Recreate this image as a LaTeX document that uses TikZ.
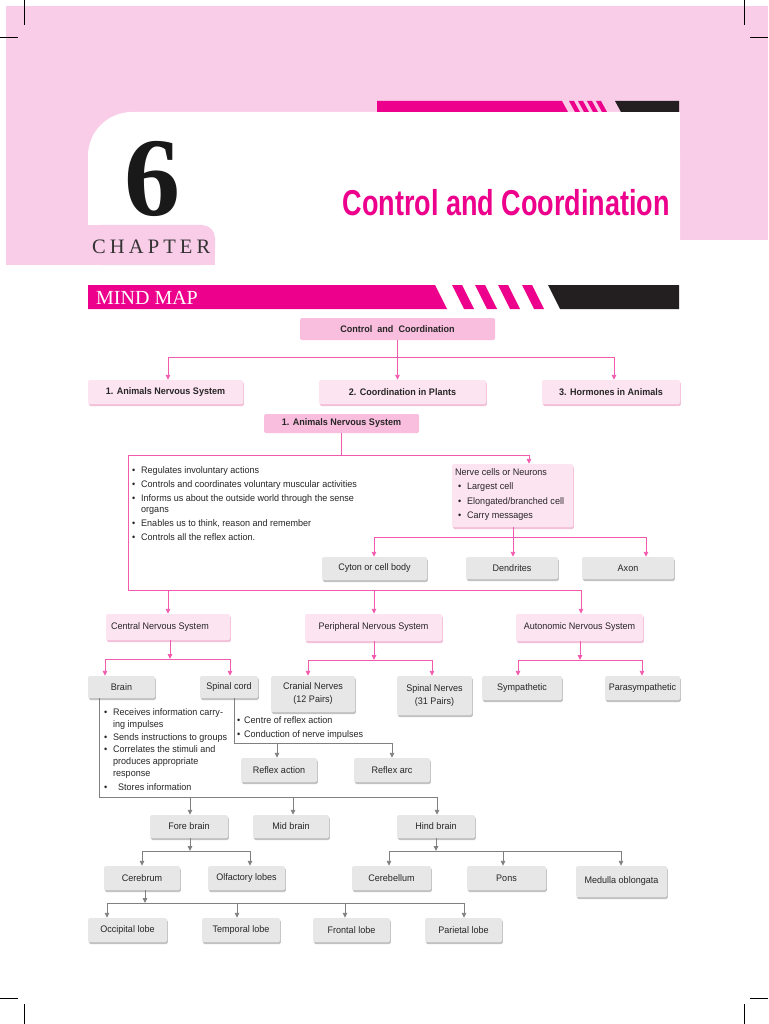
\documentclass[tikz,border=0pt]{standalone}
\usepackage{fontspec}
\setmainfont{Liberation Sans}
\newfontfamily\bodyfont[FakeStretch=0.95]{Liberation Sans}
\newfontfamily\titlefont[FakeStretch=0.75]{Liberation Sans}
\newfontfamily\serifont{Liberation Serif}
\newfontfamily\chapfont[LetterSpace=20]{Liberation Serif}
\usetikzlibrary{shadows,arrows.meta}
\definecolor{mag}{HTML}{EC008C}
\definecolor{hdrpink}{HTML}{F9CCE7}
\definecolor{boxpink}{HTML}{F9BEDE}
\definecolor{lpink}{HTML}{FDE4F1}
\definecolor{pshadow}{HTML}{F2C0D9}
\definecolor{lnpink}{HTML}{F25AAE}
\definecolor{gboxc}{HTML}{E7E7E7}
\definecolor{gshadow}{HTML}{C2C2C2}
\definecolor{gline}{HTML}{808080}
\definecolor{barblack}{HTML}{231F20}
\definecolor{txt}{HTML}{262626}
\newcommand\mkbox[7]{\node[#2, minimum width={(#5)-(#3)}, minimum height={(#6)-(#4)}] (#1) at ({((#3)+(#5))/2},{((#4)+(#6))/2}) {#7};}
\newcommand\bt{\makebox[9pt][l]{•}}
\begin{document}
\begin{tikzpicture}[x=1pt,y=-1pt,
  base/.style={inner sep=0pt, font=\bodyfont\fontsize{9.5}{11}\selectfont, text=txt, rounded corners=1.5pt, align=center},
  bold/.style={font=\bodyfont\bfseries\fontsize{9.5}{11}\selectfont},
  pbox/.style={base, bold, fill=boxpink},
  lbox/.style={base, fill=lpink, drop shadow={shadow xshift=0.8pt, shadow yshift=-2pt, fill=pshadow, opacity=1}},
  gbox/.style={base, fill=gboxc, drop shadow={shadow xshift=0.8pt, shadow yshift=-2pt, fill=gshadow, opacity=1}},
  blt/.style={inner sep=0pt, anchor=north west, align=left, text=txt},
  pl/.style={draw=lnpink, line width=0.9pt},
  pa/.style={pl, -{Triangle[length=5pt,width=4.5pt]}},
  gl/.style={draw=gline, line width=0.9pt},
  ga/.style={gl, -{Triangle[length=5pt,width=4.5pt]}},
  crop/.style={draw=black, line width=0.7pt}]
\useasboundingbox (0,0) rectangle (768,1024);
\fill[white] (0,0) rectangle (768,1024);
% ---------- header ----------
\fill[hdrpink] (6,6) rectangle (768,240);
\fill[hdrpink] (6,6) rectangle (215,265);
\fill[white, rounded corners=44pt] (88,112) rectangle (680,330);
\fill[white] (200,112) rectangle (680,330);
\fill[white] (88,200) rectangle (680,330);
\fill[hdrpink, rounded corners=13pt] (88,225) rectangle (215,265);
\fill[hdrpink] (88,225) rectangle (150,265);
\fill[hdrpink] (88,245) rectangle (215,265);
% top bar
\fill[mag] (377,101) -- (562,101) -- (568,112) -- (377,112) -- cycle;
\foreach \s in {569,578,587,596} {\fill[mag] (\s,101) -- (\s+5,101) -- (\s+11,112) -- (\s+6,112) -- cycle;}
\fill[barblack] (615,101) -- (679,101) -- (679,112) -- (621,112) -- cycle;
\node[anchor=base, inner sep=0pt, text=black!90] (six) at (152,215) {\serifont\bfseries\fontsize{112}{112}\selectfont 6};
\node[anchor=base west, inner sep=0pt, text=black!80] (chap) at (92,253) {\chapfont\fontsize{20.5}{20.5}\selectfont CHAPTER};
\node[anchor=base east, inner sep=0pt, text=mag] (title) at (670,216) {\titlefont\bfseries\fontsize{36}{36}\selectfont Control and Coordination};
% crop marks
\draw[crop] (24,0) -- (24,25);
\draw[crop] (0,37) -- (18,37);
\draw[crop] (744,0) -- (744,25);
\draw[crop] (750,37) -- (768,37);
\draw[crop] (0,998) -- (18,998);
\draw[crop] (24,1004) -- (24,1024);
\draw[crop] (750,998) -- (768,998);
\draw[crop] (744,1004) -- (744,1024);
% ---------- mind map bar ----------
\fill[mag] (88,285) -- (435,285) -- (447,309) -- (88,309) -- cycle;
\foreach \s in {452,475,498,522} {\fill[mag] (\s,285) -- (\s+10,285) -- (\s+22,309) -- (\s+12,309) -- cycle;}
\fill[barblack] (548,285) -- (679,285) -- (679,309) -- (560,309) -- cycle;
\node[anchor=base west, inner sep=0pt, text=white] (mm) at (96,304) {\serifont\fontsize{20}{20}\selectfont MIND MAP};
% ---------- level 1 ----------
\mkbox{cc}{pbox}{300}{318}{495}{340}{Control\ \ and\ \ Coordination}
\mkbox{an}{lbox,bold}{88}{380}{243}{404}{1. Animals Nervous System}
\mkbox{cp}{lbox,bold}{319}{380}{486}{404}{2. Coordination in Plants}
\mkbox{ha}{lbox,bold}{542}{380}{680}{404}{3. Hormones in Animals}
\coordinate (cL) at (168,357);
\coordinate (cR) at (614,357);
\draw[pl] (cc.south) -- (cc.south |- cL);
\draw[pl] (cL) -- (cR);
\draw[pa] (cL) -- (cL |- an.north);
\draw[pa] (cc.south |- cL) -- (cc.south |- cp.north);
\draw[pa] (cR) -- (cR |- ha.north);
% ---------- animals nervous system ----------
\mkbox{ans}{pbox}{264}{414}{419}{433}{1. Animals Nervous System}
\coordinate (aL) at (128,455);
\coordinate (aR) at (529,455);
\coordinate (bL) at (128,590);
\coordinate (bR) at (581,590);
\mkbox{nc}{lbox}{452}{464}{573}{527}{}
\draw[pl] (ans.south) -- (ans.south |- aL);
\draw[pl] (aL) -- (aR);
\draw[pa] (aR) -- (aR |- nc.north);
\draw[pl] (aL) -- (bL) -- (bR);
\node[blt, font=\bodyfont\fontsize{9.5}{13.8}\selectfont] (fun) at (132,466.5) {\bt Regulates involuntary actions\\ \bt Controls and coordinates voluntary muscular activities\\ \bt Informs us about the outside world through the sense\\[-2.4pt] \hspace*{9pt}organs\\ \bt Enables us to think, reason and remember\\ \bt Controls all the reflex action.};
\node[blt, font=\bodyfont\fontsize{9.5}{14.4}\selectfont] (nct) at (455,468.5) {Nerve cells or Neurons\\ \hspace*{3pt}\bt Largest cell\\ \hspace*{3pt}\bt Elongated/branched cell\\ \hspace*{3pt}\bt Carry messages};
\mkbox{cy}{gbox}{322}{557}{427}{580}{Cyton\ or cell body}
\mkbox{de}{gbox}{466}{557}{558}{579}{Dendrites}
\mkbox{ax}{gbox}{582}{557}{674}{579}{Axon}
\coordinate (nL) at (374,537);
\coordinate (nR) at (646,537);
\coordinate (nM) at (513,537);
\draw[pl] (nc.south -| nM) -- (nM);
\draw[pl] (nL) -- (nR);
\draw[pa] (nL) -- (nL |- cy.north);
\draw[pa] (nM) -- (nM |- de.north);
\draw[pa] (nR) -- (nR |- ax.north);
% ---------- three systems ----------
\mkbox{cns}{lbox}{106}{614}{230}{640}{\makebox[114pt][l]{Central Nervous System}}
\mkbox{pns}{lbox}{305}{614}{442}{641}{Peripheral Nervous System}
\mkbox{ons}{lbox}{516}{614}{643}{641}{Autonomic Nervous System}
\coordinate (s1) at (168,590);
\coordinate (s2) at (374,590);
\draw[pa] (s1) -- (s1 |- cns.north);
\draw[pa] (s2) -- (s2 |- pns.north);
\draw[pa] (bR) -- (bR |- ons.north);
% CNS children
\mkbox{br}{gbox}{88}{676}{155}{698}{Brain}
\mkbox{sc}{gbox}{200}{676}{258}{698}{Spinal cord}
\coordinate (cm) at (170,659);
\coordinate (cl) at (105,659);
\coordinate (cr) at (230,659);
\draw[pa] (cns.south -| cm) -- (cm);
\draw[pl] (cl) -- (cr);
\draw[pa] (cl) -- (cl |- br.north);
\draw[pa] (cr) -- (cr |- sc.north);
% PNS children
\mkbox{cn}{gbox}{271}{676}{355}{712}{Cranial Nerves\\[2pt](12 Pairs)}
\mkbox{sn}{gbox}{397}{676}{472}{715}{Spinal Nerves\\[2pt](31 Pairs)}
\coordinate (pm) at (374,660);
\coordinate (pL) at (308,660);
\coordinate (pR) at (432,660);
\draw[pa] (pns.south -| pm) -- (pm);
\draw[pl] (pL) -- (pR);
\draw[pa] (pL) -- (pL |- cn.north);
\draw[pa] (pR) -- (pR |- sn.north);
% ANS children
\mkbox{sy}{gbox}{482}{676}{562}{700}{Sympathetic}
\mkbox{ps}{gbox}{605}{676}{680}{700}{Parasympathetic}
\coordinate (om) at (580,660);
\coordinate (oL) at (518,660);
\coordinate (oR) at (642,660);
\draw[pa] (ons.south -| om) -- (om);
\draw[pl] (oL) -- (oR);
\draw[pa] (oL) -- (oL |- sy.north);
\draw[pa] (oR) -- (oR |- ps.north);
% brain / spinal cord notes
\node[blt, font=\bodyfont\fontsize{9.5}{12.3}\selectfont] (brt) at (104,708.5) {\bt Receives information carry-\\ \hspace*{9pt}ing impulses\\ \bt Sends instructions to groups\\ \bt Correlates the stimuli and\\ \hspace*{9pt}produces appropriate\\[-1pt] \hspace*{9pt}response\\[1.8pt] \makebox[14pt][l]{•}Stores information};
\node[blt, font=\bodyfont\fontsize{9.5}{14}\selectfont] (sct) at (237,716) {\makebox[7pt][l]{•}Centre of reflex action\\ \makebox[7pt][l]{•}Conduction of nerve impulses};
% reflex
\mkbox{ra}{gbox}{241}{758}{317}{782}{Reflex action}
\mkbox{rc}{gbox}{354}{758}{430}{782}{Reflex arc}
\coordinate (rT) at (234,698);
\coordinate (rL) at (234,743);
\coordinate (rR) at (392,743);
\coordinate (rM) at (277,743);
\draw[gl] (rT) -- (rL) -- (rR);
\draw[ga] (rM) -- (rM |- ra.north);
\draw[ga] (rR) -- (rR |- rc.north);
% brain parts
\mkbox{fb}{gbox}{150}{815}{228}{838}{Fore brain}
\mkbox{mb}{gbox}{253}{815}{329}{838}{Mid brain}
\mkbox{hb}{gbox}{397}{815}{475}{838}{Hind brain}
\coordinate (bT) at (99,698);
\coordinate (bBL) at (99,797);
\coordinate (bBR) at (437,797);
\coordinate (bB1) at (190,797);
\coordinate (bB2) at (293,797);
\draw[gl] (bT) -- (bBL) -- (bBR);
\draw[ga] (bB1) -- (bB1 |- fb.north);
\draw[ga] (bB2) -- (bB2 |- mb.north);
\draw[ga] (bBR) -- (bBR |- hb.north);
% fore brain children
\mkbox{ce}{gbox}{104}{866}{180}{890}{Cerebrum}
\mkbox{ol}{gbox}{208}{866}{285}{890}{Olfactory lobes}
\coordinate (fm) at (190,851);
\coordinate (fL) at (142,851);
\coordinate (fR) at (250,851);
\draw[ga] (fb.south -| fm) -- (fm);
\draw[gl] (fL) -- (fR);
\draw[ga] (fL) -- (fL |- ce.north);
\draw[ga] (fR) -- (fR |- ol.north);
% hind brain children
\mkbox{cb}{gbox}{352}{866}{431}{890}{Cerebellum}
\mkbox{po}{gbox}{467}{866}{546}{890}{Pons}
\mkbox{mo}{gbox}{576}{866}{667}{897}{Medulla oblongata}
\coordinate (hm) at (436,851);
\coordinate (hL) at (389,851);
\coordinate (hM) at (503,851);
\coordinate (hR) at (621,851);
\draw[ga] (hb.south -| hm) -- (hm);
\draw[gl] (hL) -- (hR);
\draw[ga] (hL) -- (hL |- cb.north);
\draw[ga] (hM) -- (hM |- po.north);
\draw[ga] (hR) -- (hR |- mo.north);
% cerebrum lobes
\mkbox{oc}{gbox}{88}{918}{167}{942}{Occipital lobe}
\mkbox{te}{gbox}{202}{918}{280}{942}{Temporal lobe}
\mkbox{fr}{gbox}{313}{918}{390}{942}{Frontal lobe}
\mkbox{pa}{gbox}{425}{918}{502}{942}{Parietal lobe}
\coordinate (em) at (145,903);
\coordinate (eL) at (107,903);
\coordinate (e2) at (237,903);
\coordinate (e3) at (345,903);
\coordinate (eR) at (464,903);
\draw[ga] (ce.south -| em) -- (em);
\draw[gl] (eL) -- (eR);
\draw[ga] (eL) -- (eL |- oc.north);
\draw[ga] (e2) -- (e2 |- te.north);
\draw[ga] (e3) -- (e3 |- fr.north);
\draw[ga] (eR) -- (eR |- pa.north);
\end{tikzpicture}
\end{document}
